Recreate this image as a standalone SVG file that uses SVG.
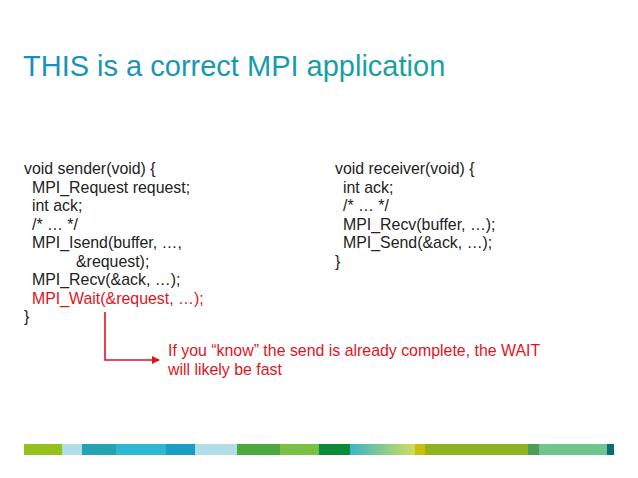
<svg xmlns="http://www.w3.org/2000/svg" width="638" height="478" viewBox="0 0 638 478">
<style>
text{font-family:"Liberation Sans",Arial,sans-serif}
.c{font-size:15.9px;fill:#222}
.r{fill:#e0141e}
</style>
<defs><marker id="ah" markerWidth="8" markerHeight="8" refX="7" refY="4" orient="auto" markerUnits="userSpaceOnUse"><path d="M0,0L8,4L0,8z" fill="#e0141e"/></marker>
<linearGradient id="t"><stop offset="0" stop-color="#1a8fc0"/><stop offset="1" stop-color="#17a39a"/></linearGradient></defs>
<rect width="638" height="478" fill="#fff"/>
<g id="title"><text x="23" y="76" font-size="29" fill="url(#t)">THIS is a correct MPI application</text></g>
<g id="sender">
<text class="c" x="24" y="174">void sender(void) {</text>
<text class="c" x="32" y="192.5">MPI_Request request;</text>
<text class="c" x="32" y="211">int ack;</text>
<text class="c" x="32" y="229.5">/* … */</text>
<text class="c" x="32" y="248">MPI_Isend(buffer, …,</text>
<text class="c" x="76" y="266.5">&amp;request);</text>
<text class="c" x="32" y="285">MPI_Recv(&amp;ack, …);</text>
<text class="c r" x="32" y="303.5">MPI_Wait(&amp;request, …);</text>
<text class="c" x="24" y="322">}</text>
</g>
<g id="receiver">
<text class="c" x="335" y="174">void receiver(void) {</text>
<text class="c" x="343" y="192.5">int ack;</text>
<text class="c" x="343" y="211">/* … */</text>
<text class="c" x="343" y="229.5">MPI_Recv(buffer, …);</text>
<text class="c" x="343" y="248">MPI_Send(&amp;ack, …);</text>
<text class="c" x="335" y="266.5">}</text>
</g>
<g id="connectors"><path d="M105,312V360H159" fill="none" stroke="#e0141e" stroke-width="1.6" marker-end="url(#ah)"/></g>
<g id="note"><text class="c r" x="168" y="356">If you “know” the send is already complete, the WAIT</text>
<text class="c r" x="168" y="375">will likely be fast</text></g>
<g id="bar">
<rect x="24" y="444" width="38" height="11" fill="#95c11f"/>
<rect x="62" y="444" width="20" height="11" fill="#b0dde6"/>
<rect x="82" y="444" width="34" height="11" fill="#24a3b3"/>
<rect x="116" y="444" width="50" height="11" fill="#2db7d0"/>
<rect x="166" y="444" width="29" height="11" fill="#1a9dc4"/>
<rect x="195" y="444" width="42" height="11" fill="#b0dde6"/>
<rect x="237" y="444" width="43" height="11" fill="#4aa83c"/>
<rect x="280" y="444" width="39" height="11" fill="#79c044"/>
<rect x="319" y="444" width="31" height="11" fill="#0b8a3a"/>
<linearGradient id="g"><stop offset="0" stop-color="#38b8c8"/><stop offset="1" stop-color="#d2dc5a"/></linearGradient>
<rect x="350" y="444" width="65" height="11" fill="url(#g)"/>
<rect x="415" y="444" width="10" height="11" fill="#c8c10a"/>
<rect x="425" y="444" width="103" height="11" fill="#8db31e"/>
<rect x="528" y="444" width="11" height="11" fill="#4b9e56"/>
<rect x="539" y="444" width="68" height="11" fill="#72c48f"/>
<rect x="607" y="444" width="7" height="11" fill="#076d76"/>
</g>
</svg>
